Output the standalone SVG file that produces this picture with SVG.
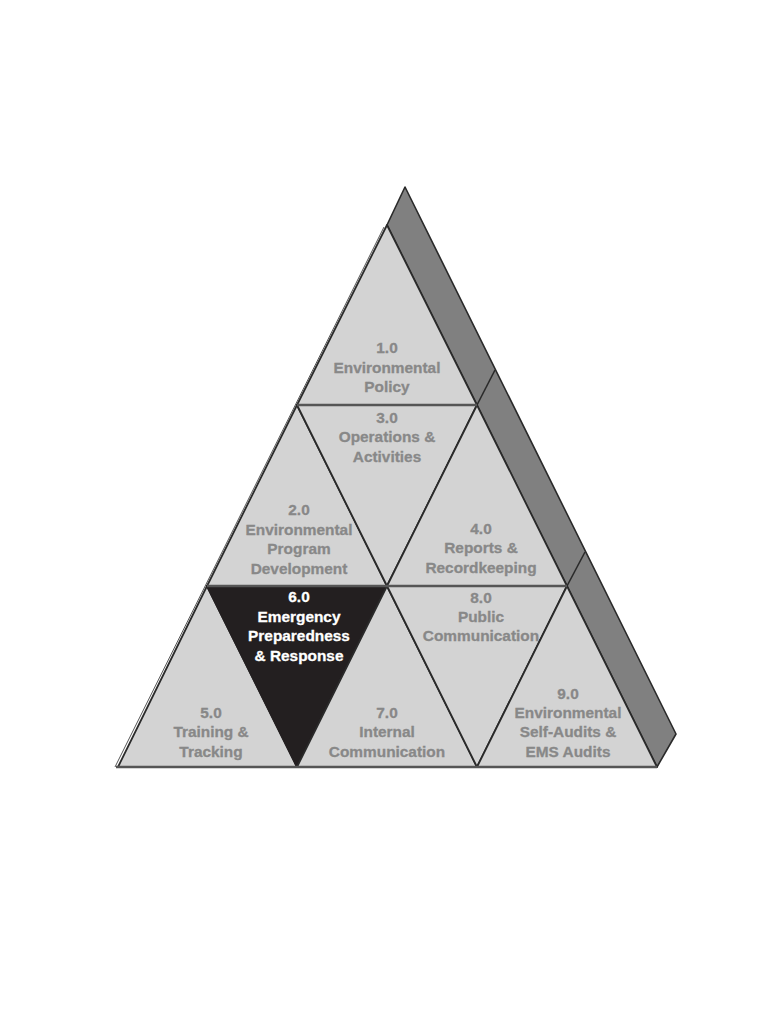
<svg xmlns="http://www.w3.org/2000/svg" width="768" height="1024" viewBox="0 0 768 1024">
<style>
.tri{fill:#d3d3d3;stroke:#2a2a2a;stroke-width:1.8;stroke-linejoin:round}
.blk{fill:#231f20;stroke:#231f20;stroke-width:1.8;stroke-linejoin:round}
.side{fill:#808080;stroke:#2a2a2a;stroke-width:1.6;stroke-linejoin:round}
.row{stroke:#555;stroke-width:2.6;fill:none}
.t{font-family:"Liberation Sans",Arial,Helvetica,sans-serif;font-weight:bold;font-size:15.4px;fill:#888888;stroke:#888888;stroke-width:0.3;text-anchor:middle}
.w{fill:#ffffff;stroke:#ffffff}
</style>
<rect width="768" height="1024" fill="#ffffff"/>
<g id="side">
<polygon class="side" points="387,225 405,187 676,734 657,767"/>
<line x1="477" y1="405" x2="495" y2="370" stroke="#2a2a2a" stroke-width="1.6"/>
<line x1="567" y1="586" x2="585" y2="552" stroke="#2a2a2a" stroke-width="1.6"/>
</g>
<g id="n1">
<polygon class="tri" points="387,225 477,405 297,405"/>
<text class="t" x="387" y="353">1.0</text>
<text class="t" x="387" y="372.5">Environmental</text>
<text class="t" x="387" y="392">Policy</text>
</g>
<g id="n2">
<polygon class="tri" points="297,405 387,586 207,586"/>
<text class="t" x="299" y="514.5">2.0</text>
<text class="t" x="299" y="534.5">Environmental</text>
<text class="t" x="299" y="554">Program</text>
<text class="t" x="299" y="574">Development</text>
</g>
<g id="n3">
<polygon class="tri" points="297,405 477,405 387,586"/>
<text class="t" x="387" y="423">3.0</text>
<text class="t" x="387" y="442">Operations &amp;</text>
<text class="t" x="387" y="461.5">Activities</text>
</g>
<g id="n4">
<polygon class="tri" points="477,405 567,586 387,586"/>
<text class="t" x="481" y="533.5">4.0</text>
<text class="t" x="481" y="553">Reports &amp;</text>
<text class="t" x="481" y="572.5">Recordkeeping</text>
</g>
<g id="n5">
<polygon class="tri" points="207,586 297,767 118,767"/>
<text class="t" x="211" y="718">5.0</text>
<text class="t" x="211" y="737">Training &amp;</text>
<text class="t" x="211" y="756.5">Tracking</text>
</g>
<g id="n6">
<polygon class="blk" points="207,586 387,586 297,767"/>
<text class="t w" x="299" y="602">6.0</text>
<text class="t w" x="299" y="621.5">Emergency</text>
<text class="t w" x="299" y="641">Preparedness</text>
<text class="t w" x="299" y="660.5">&amp; Response</text>
</g>
<g id="n7">
<polygon class="tri" points="387,586 477,767 297,767"/>
<text class="t" x="387" y="717.5">7.0</text>
<text class="t" x="387" y="737">Internal</text>
<text class="t" x="387" y="756.5">Communication</text>
</g>
<g id="n8">
<polygon class="tri" points="387,586 567,586 477,767"/>
<text class="t" x="481" y="602.5">8.0</text>
<text class="t" x="481" y="621.5">Public</text>
<text class="t" x="481" y="641">Communication</text>
</g>
<g id="n9">
<polygon class="tri" points="567,586 657,767 477,767"/>
<text class="t" x="568" y="698.5">9.0</text>
<text class="t" x="568" y="718">Environmental</text>
<text class="t" x="568" y="737">Self-Audits &amp;</text>
<text class="t" x="568" y="756.5">EMS Audits</text>
</g>
<g id="connectors">
<line class="row" x1="297" y1="405" x2="477" y2="405"/>
<line class="row" x1="207" y1="586" x2="567" y2="586"/>
<line class="row" x1="116" y1="767" x2="657" y2="767"/>
<line x1="384" y1="227" x2="115" y2="767" stroke="#555" stroke-width="1"/>
</g>
</svg>
